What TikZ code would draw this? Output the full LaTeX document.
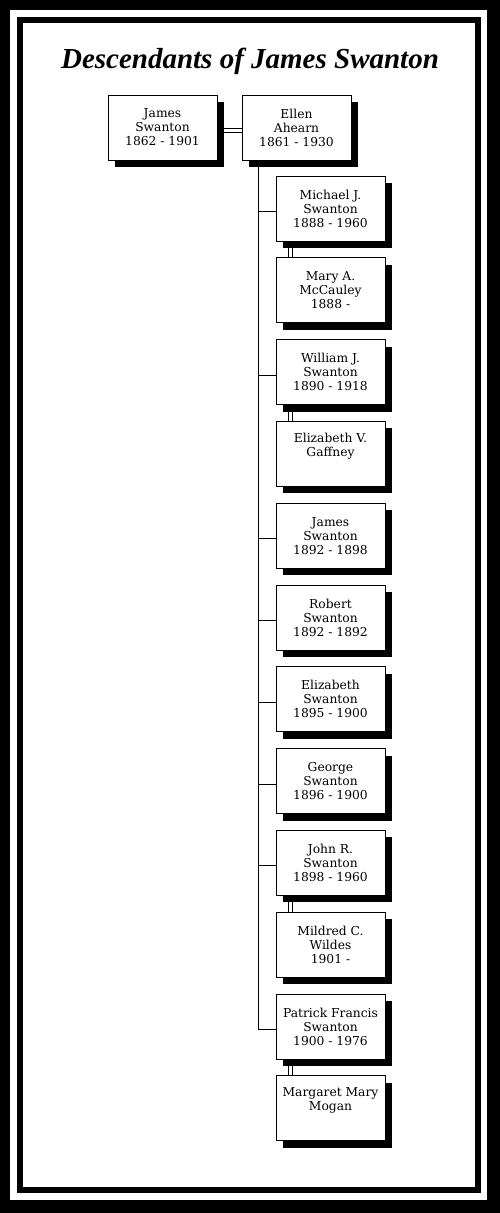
\documentclass[tikz,border=0pt]{standalone}
\usepackage{fontspec}
\setmainfont{DejaVu Serif}
\newfontfamily\titlefont{Liberation Serif}
\usetikzlibrary{shadows}

\begin{document}
\begin{tikzpicture}[
    x=1pt, y=-1pt,
    font=\fontsize{12.3}{14}\selectfont,
    person/.style={draw, fill=white, line width=1pt, minimum width=109pt,
                   minimum height=65pt, inner sep=0pt, align=center,
                   drop shadow={shadow xshift=7pt, shadow yshift=-7pt, fill=black, opacity=1}},
    link/.style={line width=1pt, black},
  ]
    \useasboundingbox (0,0) rectangle (500,1213);

    % frame
    \fill[black] (0,0) rectangle (500,1213);
    \fill[white] (10,10) rectangle (487,1200);
    \draw[line width=6pt] (20,20) rectangle (478,1190);

    \node[anchor=base] (title) at (250,68)
        {\titlefont\fontsize{29}{31}\selectfont\bfseries\itshape Descendants of James Swanton};

    \node[person] (james) at (162.5,127.5) {James\\Swanton\\1862 - 1901};
    \node[person] (ellen) at (296.5,127.5) {Ellen\\Ahearn\\1861 - 1930};

    \node[person] (michael)   at (330.5,208.5)  {Michael J.\\Swanton\\1888 - 1960};
    \node[person] (mary)      at (330.5,290.3)  {Mary A.\\McCauley\\1888 -};
    \node[person] (william)   at (330.5,372.1)  {William J.\\Swanton\\1890 - 1918};
    \node[person] (elizv)     at (330.5,453.9)  {Elizabeth V.\\Gaffney\\\strut};
    \node[person] (jamesjr)   at (330.5,535.7)  {James\\Swanton\\1892 - 1898};
    \node[person] (robert)    at (330.5,617.5)  {Robert\\Swanton\\1892 - 1892};
    \node[person] (elizabeth) at (330.5,699.3)  {Elizabeth\\Swanton\\1895 - 1900};
    \node[person] (george)    at (330.5,781.1)  {George\\Swanton\\1896 - 1900};
    \node[person] (john)      at (330.5,862.9)  {John R.\\Swanton\\1898 - 1960};
    \node[person] (mildred)   at (330.5,944.7)  {Mildred C.\\Wildes\\1901 -};
    \node[person] (patrick)   at (330.5,1026.5) {Patrick Francis\\Swanton\\1900 - 1976};
    \node[person] (margaret)  at (330.5,1108.3) {Margaret Mary\\Mogan\\\strut};

    % marriage of the parents
    \draw[link] ([yshift=-1pt]james.east) -- ([yshift=-1pt]ellen.west);
    \draw[link] ([yshift=-5pt]james.east) -- ([yshift=-5pt]ellen.west);

    % line of the children
    \coordinate (trunk) at (258,160);
    \draw[link] (trunk) |- ([yshift=-3pt]patrick.west);
    \draw[link] ([yshift=-3pt]michael.west)   -- ([yshift=-3pt]michael.west -| trunk);
    \draw[link] ([yshift=-3pt]william.west)   -- ([yshift=-3pt]william.west -| trunk);
    \draw[link] ([yshift=-3pt]jamesjr.west)   -- ([yshift=-3pt]jamesjr.west -| trunk);
    \draw[link] ([yshift=-3pt]robert.west)    -- ([yshift=-3pt]robert.west -| trunk);
    \draw[link] ([yshift=-3pt]elizabeth.west) -- ([yshift=-3pt]elizabeth.west -| trunk);
    \draw[link] ([yshift=-3pt]george.west)    -- ([yshift=-3pt]george.west -| trunk);
    \draw[link] ([yshift=-3pt]john.west)      -- ([yshift=-3pt]john.west -| trunk);

    % marriages of the children
    \draw[link] ([xshift=13pt]michael.south west) -- ([xshift=13pt]mary.north west);
    \draw[link] ([xshift=17pt]michael.south west) -- ([xshift=17pt]mary.north west);
    \draw[link] ([xshift=13pt]william.south west) -- ([xshift=13pt]elizv.north west);
    \draw[link] ([xshift=17pt]william.south west) -- ([xshift=17pt]elizv.north west);
    \draw[link] ([xshift=13pt]john.south west)    -- ([xshift=13pt]mildred.north west);
    \draw[link] ([xshift=17pt]john.south west)    -- ([xshift=17pt]mildred.north west);
    \draw[link] ([xshift=13pt]patrick.south west) -- ([xshift=13pt]margaret.north west);
    \draw[link] ([xshift=17pt]patrick.south west) -- ([xshift=17pt]margaret.north west);
\end{tikzpicture}
\end{document}
